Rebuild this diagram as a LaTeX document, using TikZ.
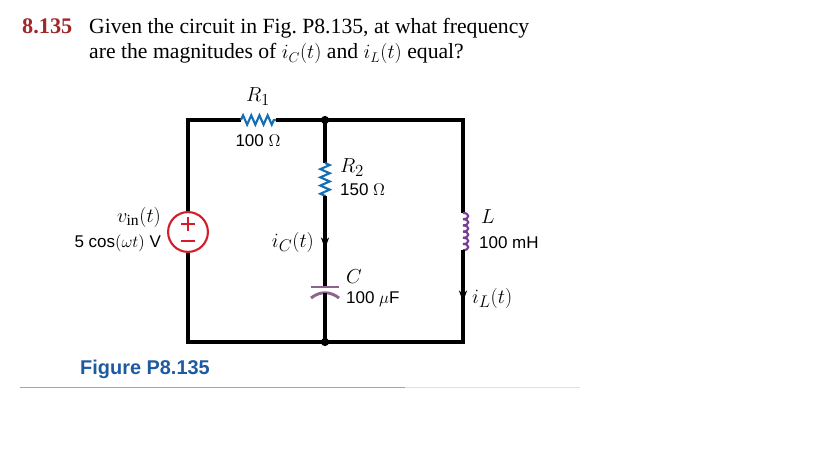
\documentclass[tikz,border=0pt]{standalone}
\usepackage{fontspec}
\setmainfont{Liberation Serif}
\newfontfamily\sansf{Liberation Sans}
\usetikzlibrary{decorations.pathmorphing,arrows.meta}
\definecolor{numred}{RGB}{160,40,40}
\definecolor{figblue}{RGB}{30,90,160}
\definecolor{resblue}{RGB}{20,110,180}
\definecolor{srcred}{RGB}{210,30,40}
\definecolor{indpurple}{RGB}{120,60,150}
\definecolor{capmauve}{RGB}{140,100,140}
\begin{document}
\begin{tikzpicture}[x=0.03cm,y=-0.03cm,
  wire/.style={line width=3pt},
  res/.style={resblue,line width=1.8pt,decorate,decoration={zigzag,segment length=7pt,amplitude=4pt}},
  ind/.style={indpurple,line width=1.8pt},
  lab/.style={font=\sansf\fontsize{14.5}{16}\selectfont},
  mlab/.style={font=\fontsize{19}{21}\selectfont},
  cur/.style={-{Stealth[length=10pt,width=7pt]},line width=1.2pt},
  dot/.style={circle,fill,inner sep=0pt,minimum size=7pt}]
\useasboundingbox (0,0) rectangle (819,460);
% title
\node[anchor=base west,inner sep=0pt] (num) at (22,34) {\fontsize{19}{21}\selectfont\textbf{\color{numred}8.135}};
\node[anchor=base west,inner sep=0pt] (t1) at (89,34) {\fontsize{18.5}{21}\selectfont Given the circuit in Fig.\ P8.135, at what frequency};
\node[anchor=base west,inner sep=0pt] (t2) at (89,59) {\fontsize{18.5}{21}\selectfont are the magnitudes of $i_C(t)$ and $i_L(t)$ equal?};
% corners
\coordinate (TL) at (188,120);
\coordinate (TM) at (325,120);
\coordinate (TR) at (463,120);
\coordinate (BL) at (188,342);
\coordinate (BM) at (325,342);
\coordinate (BR) at (463,342);
\node[circle,draw=srcred,line width=1.8pt,minimum size=34pt,inner sep=0pt] (V) at (188,232) {};
\draw[srcred,line width=1.2pt] (181,224) -- (195,224) (188,217) -- (188,231);
\draw[srcred,line width=1.2pt] (181,241) -- (195,241);
% wires
\draw[wire] (V) -- (TL) -- (241,120);
\draw[res] (241,120) -- (276,120);
\draw[wire] (276,120) -- (TR) -- (463,213);
\foreach \k in {0,...,5}
  \draw[ind] (463,213+6.2*\k) .. controls (470,213+6.2*\k) and (470,219.2+6.2*\k) .. (463,219.2+6.2*\k);
\draw[wire] (463,250) -- (BR) -- (BL) -- (V);
\draw[wire] (TM) -- (325,163);
\draw[res] (325,163) -- (325,196);
\draw[wire] (325,196) -- (325,287);
\draw[capmauve,line width=2.5pt] (311,287) -- (339,287);
\draw[capmauve,line width=2.5pt] (311,298) .. controls (320,291) and (330,291) .. (339,298);
\draw[wire] (325,293) -- (BM);
\node[dot] at (TM) {};
\node[dot] at (BM) {};
\draw[cur] (325,230) -- (325,249);
\draw[cur] (463,283) -- (463,302);
% labels
\node[mlab] (r1) at (258,97) {$R_1$};
\node[lab] (r1v) at (258,141) {100 $\Omega$};
\node[mlab,anchor=west] (r2) at (336,168) {$R_2$};
\node[lab,anchor=west] (r2v) at (336,190) {150 $\Omega$};
\node[mlab,anchor=west] (ll) at (477,217) {$L$};
\node[lab,anchor=west] (lv) at (475,243) {100 mH};
\node[mlab,anchor=west] (cc) at (342,277) {$C$};
\node[lab,anchor=west] (cv) at (342,299) {100 $\mu$F};
\node[mlab,anchor=east] (ic) at (318,242) {$i_C(t)$};
\node[mlab,anchor=west] (il) at (468,298) {$i_L(t)$};
\node[mlab,anchor=east] (vin) at (165,217) {$v_{\mathrm{in}}(t)$};
\node[lab,anchor=east] (vv) at (165,243) {5 cos$(\omega t)$ V};
\node[anchor=base west,inner sep=0pt,figblue] (fig) at (80,374) {\sansf\bfseries\fontsize{17}{19}\selectfont Figure P8.135};
\draw[gray!70,line width=0.8pt] (20,387) -- (405,387);
\draw[gray!25,line width=0.8pt] (405,387) -- (580,387);
\end{tikzpicture}
\end{document}
